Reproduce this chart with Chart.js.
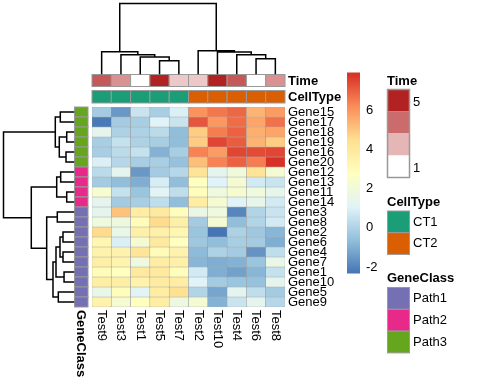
<!DOCTYPE html>
<html>
<head>
<meta charset="utf-8">
<script src="https://cdn.jsdelivr.net/npm/chart.js@4.4.0/dist/chart.umd.min.js"></script>
<style>
  body { margin: 0; background: #fff; }
</style>
</head>
<body>
<canvas id="heat" width="480" height="384"></canvas>
<script>
// columns and rows in clustered order
const colNames = ["Test9", "Test3", "Test1", "Test5", "Test7", "Test2", "Test10", "Test4", "Test6", "Test8"];
const rowNames = ["Gene15", "Gene17", "Gene18", "Gene19", "Gene16", "Gene20", "Gene12", "Gene13", "Gene11", "Gene14",
                  "Gene3", "Gene8", "Gene2", "Gene6", "Gene4", "Gene7", "Gene1", "Gene10", "Gene5", "Gene9"];

// cell values, one array per row (same order as rowNames / colNames)
const gene15 = [-0.2, -1.5, 0.6, -0.1, 1.0, 6.1, 6.6, 6.9, 5.4, 5.9];
const gene17 = [-2.2, -0.2, -0.1, 1.1, 0.6, 7.2, 6.0, 6.8, 5.7, 6.7];
const gene18 = [1.4, 0.0, 0.0, 0.3, -0.6, 4.9, 6.5, 7.0, 5.5, 5.7];
const gene19 = [-0.1, 0.5, 0.0, -0.1, -0.6, 4.9, 7.5, 7.1, 5.4, 4.9];
const gene16 = [-0.1, 0.3, 0.5, -0.9, -0.1, 6.4, 5.9, 7.5, 7.4, 7.5];
const gene20 = [1.0, 0.2, -0.1, -0.1, -0.5, 5.2, 6.4, 7.0, 6.5, 7.9];
const gene12 = [0.3, 1.4, -1.5, -0.2, 0.2, 4.3, 1.4, 2.0, 4.3, 2.2];
const gene13 = [-0.2, -0.6, -1.0, 0.9, -0.6, 2.8, 1.1, 2.2, 0.8, 0.6];
const gene11 = [2.3, 0.5, -0.4, 1.2, 0.4, 2.9, 1.9, 2.3, 1.9, 1.5];
const gene14 = [1.4, -0.2, -0.1, 0.4, -0.6, 3.8, 2.2, 1.1, 1.5, 0.8];
const gene3  = [1.4, 5.1, 3.8, 4.0, 2.9, 1.7, 1.9, -1.9, 0.1, 0.6];
const gene8  = [1.9, 1.8, 3.0, 4.6, 3.7, -0.2, 2.2, -0.6, 0.1, 0.8];
const gene2  = [4.6, 1.6, 3.6, 3.6, 3.3, -0.4, -2.3, 0.0, -0.3, -0.8];
const gene6  = [3.3, 1.0, 2.2, 4.0, 2.8, -0.3, -0.6, -0.1, -0.2, -1.0];
const gene4  = [3.5, 3.5, 4.2, 3.0, 3.5, -0.7, 0.0, -0.2, -1.6, 0.4];
const gene7  = [3.7, 3.4, 1.9, 3.8, 3.6, -0.8, -1.0, -0.9, -0.4, 1.6];
const gene1  = [3.0, 2.8, 4.0, 4.0, 2.9, 0.8, -1.0, -1.3, -0.8, 0.5];
const gene10 = [3.7, 3.7, 3.5, 3.9, 3.8, 1.1, -0.2, -0.4, -0.5, 1.4];
const gene5  = [1.6, 2.9, 1.2, 3.8, 4.4, 0.1, -1.2, 1.3, 0.4, -0.2];
const gene9  = [3.5, 2.2, 2.8, 3.8, 1.8, 2.2, -0.9, 0.6, 1.4, 0.2];
const values = [gene15, gene17, gene18, gene19, gene16, gene20, gene12, gene13, gene11, gene14,
                gene3, gene8, gene2, gene6, gene4, gene7, gene1, gene10, gene5, gene9];

// annotations
const timeValues = [4, 3, 1, 5, 2, 2, 5, 4, 1, 3];
const cellTypes = ["CT1", "CT1", "CT1", "CT1", "CT1", "CT2", "CT2", "CT2", "CT2", "CT2"];
const geneClass = ["Path3", "Path3", "Path3", "Path3", "Path3", "Path3", "Path2", "Path2", "Path2", "Path2",
                   "Path1", "Path1", "Path1", "Path1", "Path1", "Path1", "Path1", "Path1", "Path1", "Path1"];
const legendTicks = [-2, 0, 2, 4, 6];
const timeLegend = ["5", "1"];

// dendrograms, hclust style: negative = leaf (1-based, plot order), positive = earlier merge
const colMerge = [[-4, -5, 3.64], [-3, 1, 4.68], [-2, 2, 5.37], [-1, 3, 6.23],
                  [-9, -10, 4.22], [-8, 5, 5.37], [-7, 6, 6.11], [-6, 7, 6.51], [4, 8, 20]];
const rowMerge = [[-1, -2, 3.77], [-3, -4, 1.94], [-5, -6, 2.14], [2, 3, 4.06], [1, 4, 5.2],
                  [-7, -8, 3.66], [-9, -10, 1.94], [6, 7, 4.8],
                  [-11, -12, 4.63], [-13, -14, 3.0], [-15, -16, 3.0], [-17, -18, 2.7], [-19, -20, 4.34],
                  [10, 11, 3.86], [14, 12, 5.0], [15, 13, 5.86], [9, 16, 7.66], [8, 17, 12.06], [5, 18, 20]];

const palette = ["#4575B4", "#91BFDB", "#E0F3F8", "#FFFFBF", "#FEE090", "#FC8D59", "#D73027"];
const cellTypeColors = { CT1: "#1B9E77", CT2: "#D95F02" };
const geneClassColors = { Path1: "#7570B3", Path2: "#E7298A", Path3: "#66A61E" };
const gridColor = "#999999";
const font = "'Liberation Sans', Arial, sans-serif";

const allValues = values.flat();
const vMin = Math.min(...allValues), vMax = Math.max(...allValues);

function hexToRgb(h) {
    return [parseInt(h.slice(1, 3), 16), parseInt(h.slice(3, 5), 16), parseInt(h.slice(5, 7), 16)];
}
function mix(a, b, f) {
    let ca = hexToRgb(a), cb = hexToRgb(b);
    let c = ca.map((x, i) => Math.round(x + (cb[i] - x) * f));
    return `rgb(${c[0]},${c[1]},${c[2]})`;
}
function valueColor(v) {
    let t = Math.max(0, Math.min(1, (v - vMin) / (vMax - vMin))) * (palette.length - 1);
    let i = Math.min(Math.floor(t), palette.length - 2);
    return mix(palette[i], palette[i + 1], t - i);
}
function timeColor(t) {
    return mix("#FFFFFF", "#B22222", (t - 1) / 4);
}

function drawTree(ctx, merges, leafPos, hPix, horizontal) {
    let pos = [], hts = [];
    let node = k => k < 0 ? [leafPos(-k - 1), 0] : [pos[k - 1], hts[k - 1]];
    let pt = (p, h) => horizontal ? [hPix(h), p] : [p, hPix(h)];
    ctx.beginPath();
    merges.forEach(([a, b, h], m) => {
        let [pa, ha] = node(a), [pb, hb] = node(b);
        ctx.moveTo(...pt(pa, ha));
        ctx.lineTo(...pt(pa, h));
        ctx.lineTo(...pt(pb, h));
        ctx.lineTo(...pt(pb, hb));
        pos[m] = (pa + pb) / 2;
        hts[m] = h;
    });
    ctx.stroke();
}

function box(ctx, x, y, w, h, fill) {
    ctx.fillStyle = fill;
    ctx.fillRect(x, y, w, h);
    ctx.strokeStyle = gridColor;
    ctx.lineWidth = 1;
    ctx.strokeRect(x, y, w, h);
}

const decor = {
    id: "decor",
    afterDraw(chart) {
        const ctx = chart.ctx;
        const xs = chart.scales.x, ys = chart.scales.y;
        const area = chart.chartArea;
        const cw = (area.right - area.left) / colNames.length;
        const rh = (area.bottom - area.top) / rowNames.length;
        ctx.save();

        // column annotations
        colNames.forEach((c, i) => {
            let x0 = xs.getPixelForValue(i) - cw / 2;
            box(ctx, x0, 74.5, cw, 12, timeColor(timeValues[i]));
            box(ctx, x0, 90.5, cw, 12.5, cellTypeColors[cellTypes[i]]);
        });
        // row annotation
        rowNames.forEach((r, i) => {
            let y0 = ys.getPixelForValue(i);
            box(ctx, 74.5, y0, 13.5, rh, geneClassColors[geneClass[i]]);
        });

        // dendrograms
        ctx.strokeStyle = "#000";
        ctx.lineWidth = 1.5;
        ctx.lineCap = "square";
        drawTree(ctx, colMerge, i => xs.getPixelForValue(i), h => 73.5 - h / 20 * 70, false);
        drawTree(ctx, rowMerge, i => ys.getPixelForValue(i + 0.5), h => 73.5 - h / 20 * 70, true);

        ctx.fillStyle = "#000";
        ctx.textBaseline = "middle";
        // annotation names
        ctx.font = "bold 13px " + font;
        ctx.textAlign = "left";
        ctx.fillText("Time", 288, 81);
        ctx.fillText("CellType", 288, 97);

        // rotated column labels
        ctx.font = "13px " + font;
        colNames.forEach((c, i) => {
            ctx.save();
            ctx.translate(xs.getPixelForValue(i), 310);
            ctx.rotate(Math.PI / 2);
            ctx.fillText(c, 0, 0);
            ctx.restore();
        });
        ctx.save();
        ctx.font = "bold 13px " + font;
        ctx.translate(81, 310);
        ctx.rotate(Math.PI / 2);
        ctx.fillText("GeneClass", 0, 0);
        ctx.restore();

        // colour bar legend
        const barTop = 73, barBottom = 273, steps = 100;
        const vToY = v => barBottom - (v - vMin) / (vMax - vMin) * (barBottom - barTop);
        for (let k = 0; k < steps; k++) {
            let v0 = vMin + (vMax - vMin) * k / steps;
            let v1 = vMin + (vMax - vMin) * (k + 1) / steps;
            ctx.fillStyle = valueColor((v0 + v1) / 2);
            ctx.fillRect(347, vToY(v1) - 0.5, 13, vToY(v0) - vToY(v1) + 1);
        }
        ctx.fillStyle = "#000";
        ctx.font = "13px " + font;
        legendTicks.forEach(t => ctx.fillText(String(t), 366, vToY(t)));

        // Time legend
        ctx.font = "bold 13px " + font;
        ctx.fillText("Time", 387, 81);
        [5, 3.67, 2.33, 1].forEach((t, k) => {
            ctx.fillStyle = timeColor(t);
            ctx.fillRect(387.5, 89.5 + k * 22, 22, 22);
        });
        ctx.strokeStyle = gridColor;
        ctx.strokeRect(387.5, 89.5, 22, 88);
        ctx.fillStyle = "#000";
        ctx.font = "13px " + font;
        ctx.fillText(timeLegend[0], 413, 102);
        ctx.fillText(timeLegend[1], 413, 168);

        // CellType legend
        ctx.font = "bold 13px " + font;
        ctx.fillText("CellType", 387, 202);
        ["CT1", "CT2"].forEach((c, k) => {
            box(ctx, 387.5, 211 + k * 21.7, 22, 21.7, cellTypeColors[c]);
            ctx.fillStyle = "#000";
            ctx.font = "13px " + font;
            ctx.fillText(c, 413, 222 + k * 21.7);
        });

        // GeneClass legend
        ctx.font = "bold 13px " + font;
        ctx.fillText("GeneClass", 387, 278);
        ["Path1", "Path2", "Path3"].forEach((c, k) => {
            box(ctx, 387.5, 287.5 + k * 21.8, 22, 21.8, geneClassColors[c]);
            ctx.fillStyle = "#000";
            ctx.font = "13px " + font;
            ctx.fillText(c, 413, 298.5 + k * 21.8);
        });
        ctx.restore();
    }
};

new Chart(document.getElementById("heat").getContext("2d"), {
    type: "bar",
    data: {
        labels: colNames,
        datasets: rowNames.map((g, i) => ({
            label: g,
            data: colNames.map(() => 1),
            backgroundColor: values[i].map(valueColor),
            borderColor: gridColor,
            borderWidth: 0.5,
            borderSkipped: false,
            categoryPercentage: 1,
            barPercentage: 1
        }))
    },
    options: {
        responsive: false,
        animation: false,
        layout: { padding: { left: 92, top: 107, right: 135, bottom: 77 } },
        plugins: { legend: { display: false }, tooltip: { enabled: false } },
        scales: {
            x: { display: false, stacked: true },
            y: {
                stacked: true,
                reverse: true,
                min: 0,
                max: 20,
                position: "right",
                grid: { display: false, drawTicks: false },
                border: { display: false },
                afterBuildTicks: s => { s.ticks = rowNames.map((g, i) => ({ value: i + 0.5 })); },
                afterFit: s => { s.width = 60; },
                ticks: {
                    autoSkip: false,
                    padding: 3,
                    color: "#000",
                    font: { size: 13, family: font },
                    callback: (v, i) => rowNames[i]
                }
            }
        }
    },
    plugins: [decor]
});
</script>
</body>
</html>
